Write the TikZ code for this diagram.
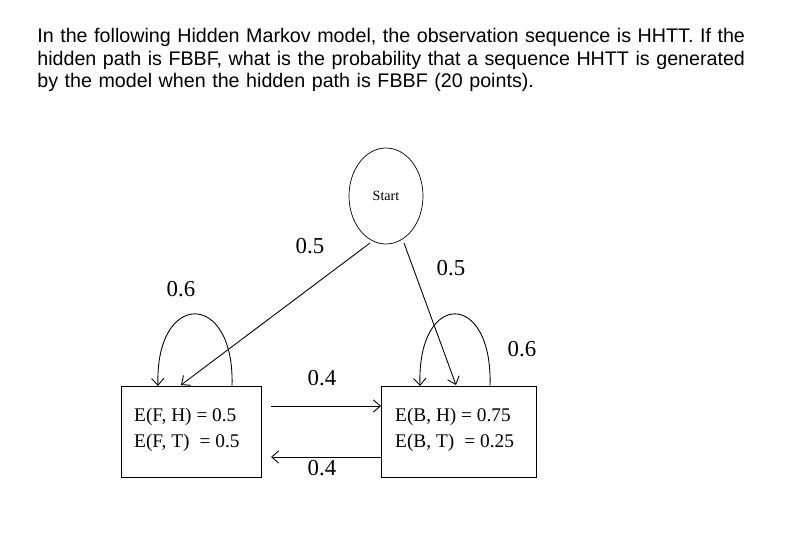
\documentclass[tikz,border=0pt]{standalone}
\usepackage{fontspec}
\setmainfont{Liberation Serif}
\newfontfamily\arialf{Liberation Sans}
\usetikzlibrary{arrows.meta,shapes.geometric}
\begin{document}
\begin{tikzpicture}[x=0.02cm,y=-0.02cm,
  conn/.style={draw,line width=0.5pt,-{Straight Barb[length=4pt,width=7pt]}},
  statebox/.style={draw,line width=0.5pt,minimum width=2.8cm,minimum height=1.82cm},
  prob/.style={font=\fontsize{13}{15}\selectfont}]
\useasboundingbox (0,0) rectangle (791,537);
\node[anchor=north west,align=left,text width=14.6cm,inner sep=0pt,font=\arialf\fontsize{11.2}{12.9}\selectfont] (title) at (37,28)
 {In the following Hidden Markov model, the observation sequence is HHTT. If the hidden path is FBBF, what is the probability that a sequence HHTT is generated by the model when the hidden path is FBBF (20 points).};
\node[draw,ellipse,minimum width=1.48cm,minimum height=1.92cm,inner sep=0pt,font=\fontsize{8}{9}\selectfont] (start) at (386,196) {Start};
\node[statebox,anchor=north west,align=left] (F) at (121,386) {};
\node[statebox,anchor=north west,minimum width=3.1cm] (B) at (381,386) {};
\node[anchor=west,font=\fontsize{11}{15}\selectfont,align=left] (Ft) at (128,430) {E(F, H) = 0.5\\E(F, T) \;= 0.5};
\node[anchor=west,font=\fontsize{11}{15}\selectfont,align=left] (Bt) at (389,430) {E(B, H) = 0.75\\E(B, T) \;= 0.25};
\coordinate (Fin) at (181,385);
\coordinate (Bin) at (456,385);
\draw[conn] (370,243) -- (Fin);
\draw[conn] (404,243) -- (Bin);
\coordinate (Fl1) at (158,386); \coordinate (Fl2) at (232,386);
\coordinate (Bl1) at (420,386); \coordinate (Bl2) at (490,386);
\draw[conn] (Fl2) .. controls (235,290) and (155,290) .. (Fl1);
\draw[conn] (Bl2) .. controls (493,290) and (417,290) .. (Bl1);
\draw[conn] (271,406) -- (B.west |- 0,406);
\draw[conn] (B.west |- 0,457) -- (271,457);
\node[prob] (p1) at (310,246) {0.5};
\node[prob] (p2) at (451,268) {0.5};
\node[prob] (p3) at (181,289) {0.6};
\node[prob] (p4) at (522,349) {0.6};
\node[prob] (p5) at (322,378) {0.4};
\node[prob] (p6) at (322,468) {0.4};
\end{tikzpicture}
\end{document}
